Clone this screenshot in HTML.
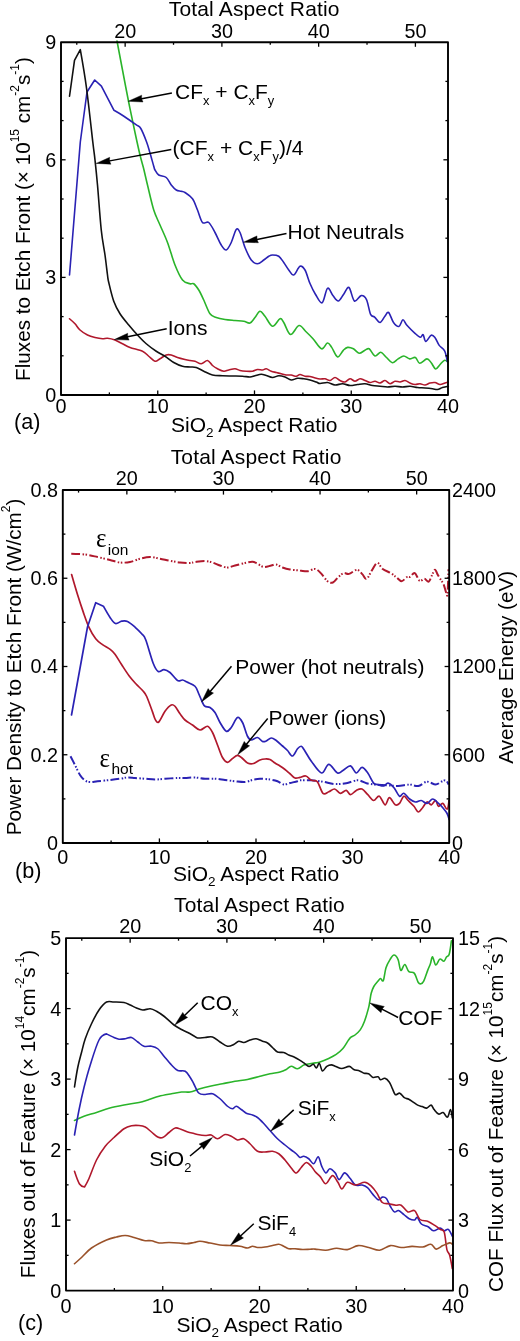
<!DOCTYPE html>
<html><head><meta charset="utf-8"><title>Figure</title>
<style>
html,body{margin:0;padding:0;background:#fff;}
svg{display:block;}
text{font-family:'Liberation Sans', Arial, Helvetica, sans-serif;fill:#000;}
</style></head>
<body>
<svg width="520" height="1341" viewBox="0 0 520 1341">
<rect width="520" height="1341" fill="#fff"/>
<path d="M117.00,41.00 C117.00,41.00 120.54,59.75 122.50,70.00 C124.46,80.25 126.67,92.08 128.75,102.50 C130.83,112.92 133.12,123.75 135.00,132.50 C136.88,141.25 138.58,149.08 140.00,155.00 C141.42,160.92 142.25,163.00 143.50,168.00 C144.75,173.00 145.79,178.00 147.50,185.00 C149.21,192.00 151.67,203.33 153.75,210.00 C155.83,216.67 157.71,219.58 160.00,225.00 C162.29,230.42 165.00,235.83 167.50,242.50 C170.00,249.17 172.50,258.75 175.00,265.00 C177.50,271.25 180.00,276.88 182.50,280.00 C185.00,283.12 188.12,283.12 190.00,283.75 C191.88,284.38 192.29,282.71 193.75,283.75 C195.21,284.79 197.08,287.29 198.75,290.00 C200.42,292.71 201.88,296.04 203.75,300.00 C205.62,303.96 207.92,310.83 210.00,313.75 C212.08,316.67 213.75,316.54 216.25,317.50 C218.75,318.46 221.88,319.00 225.00,319.50 C228.12,320.00 231.88,320.21 235.00,320.50 C238.12,320.79 241.25,320.83 243.75,321.25 C246.25,321.67 248.12,323.62 250.00,323.00 C251.88,322.38 253.33,319.46 255.00,317.50 C256.67,315.54 258.33,311.46 260.00,311.25 C261.67,311.04 262.92,313.75 265.00,316.25 C267.08,318.75 270.00,325.83 272.50,326.25 C275.00,326.67 278.12,319.38 280.00,318.75 C281.88,318.12 282.00,319.88 283.75,322.50 C285.50,325.12 287.96,334.00 290.50,334.50 C293.04,335.00 296.45,326.00 299.00,325.50 C301.55,325.00 303.47,329.30 305.80,331.50 C308.13,333.70 310.37,335.82 313.00,338.70 C315.63,341.58 319.20,348.08 321.60,348.80 C324.00,349.52 325.72,343.23 327.40,343.00 C329.08,342.77 330.02,345.08 331.70,347.40 C333.38,349.72 335.57,356.42 337.50,356.90 C339.43,357.38 341.62,351.88 343.30,350.30 C344.98,348.72 345.92,347.65 347.60,347.40 C349.28,347.15 351.48,347.83 353.40,348.80 C355.32,349.77 357.18,352.95 359.10,353.20 C361.02,353.45 363.22,351.03 364.90,350.30 C366.58,349.57 367.52,347.85 369.20,348.80 C370.88,349.75 373.07,355.42 375.00,356.00 C376.93,356.58 378.88,352.05 380.80,352.30 C382.72,352.55 384.58,355.77 386.50,357.50 C388.42,359.23 390.37,362.47 392.30,362.70 C394.23,362.93 396.18,360.02 398.10,358.90 C400.02,357.78 401.88,356.00 403.80,356.00 C405.72,356.00 407.67,358.65 409.60,358.90 C411.53,359.15 413.72,356.77 415.40,357.50 C417.08,358.23 417.78,363.07 419.70,363.30 C421.62,363.53 424.98,359.00 426.90,358.90 C428.82,358.80 429.75,361.02 431.20,362.70 C432.65,364.38 434.15,368.67 435.60,369.00 C437.05,369.33 438.47,366.13 439.90,364.70 C441.33,363.27 442.90,360.88 444.20,360.40 C445.50,359.92 447.70,361.80 447.70,361.80" fill="none" stroke="#2ab42a" stroke-width="1.6" stroke-linejoin="round" stroke-linecap="round" />
<path d="M69.50,275.00 C69.50,275.00 80.30,142.00 80.30,142.00 C80.30,142.00 87.00,92.00 87.00,92.00 C87.00,92.00 94.70,80.00 94.70,80.00 C94.70,80.00 101.40,86.20 101.40,86.20 C101.40,86.20 114.00,110.30 114.00,110.30 C114.00,110.30 119.83,113.60 123.50,116.00 C127.17,118.40 133.12,122.62 136.00,124.70 C138.88,126.78 139.03,125.62 140.80,128.50 C142.57,131.38 145.07,137.92 146.60,142.00 C148.13,146.08 148.81,148.96 150.00,153.00 C151.19,157.04 152.92,163.42 153.75,166.25 C154.58,169.08 154.17,168.54 155.00,170.00 C155.83,171.46 156.88,173.75 158.75,175.00 C160.62,176.25 164.17,175.83 166.25,177.50 C168.33,179.17 169.58,182.92 171.25,185.00 C172.92,187.08 174.58,188.96 176.25,190.00 C177.92,191.04 179.79,190.83 181.25,191.25 C182.71,191.67 183.12,191.25 185.00,192.50 C186.88,193.75 190.42,195.83 192.50,198.75 C194.58,201.67 195.83,206.04 197.50,210.00 C199.17,213.96 200.62,220.42 202.50,222.50 C204.38,224.58 206.67,220.83 208.75,222.50 C210.83,224.17 212.92,228.75 215.00,232.50 C217.08,236.25 219.38,242.08 221.25,245.00 C223.12,247.92 224.58,250.42 226.25,250.00 C227.92,249.58 229.58,245.92 231.25,242.50 C232.92,239.08 234.79,231.17 236.25,229.50 C237.71,227.83 238.54,229.50 240.00,232.50 C241.46,235.50 243.12,242.92 245.00,247.50 C246.88,252.08 249.17,257.29 251.25,260.00 C253.33,262.71 255.42,263.75 257.50,263.75 C259.58,263.75 261.88,261.25 263.75,260.00 C265.62,258.75 267.29,257.08 268.75,256.25 C270.21,255.42 270.83,255.00 272.50,255.00 C274.17,255.00 276.88,255.00 278.75,256.25 C280.62,257.50 282.08,260.21 283.75,262.50 C285.42,264.79 287.08,267.92 288.75,270.00 C290.42,272.08 291.88,275.62 293.75,275.00 C295.62,274.38 298.12,267.08 300.00,266.25 C301.88,265.42 303.33,267.12 305.00,270.00 C306.67,272.88 308.27,279.47 310.00,283.50 C311.73,287.53 313.38,290.98 315.40,294.20 C317.42,297.42 320.08,303.78 322.10,302.80 C324.12,301.82 325.70,289.50 327.50,288.30 C329.30,287.10 331.10,293.48 332.90,295.60 C334.70,297.72 336.50,301.23 338.30,301.00 C340.10,300.77 341.92,296.45 343.70,294.20 C345.48,291.95 347.22,286.37 349.00,287.50 C350.78,288.63 352.37,299.65 354.40,301.00 C356.43,302.35 359.18,295.83 361.20,295.60 C363.22,295.37 364.93,296.47 366.50,299.60 C368.07,302.73 369.25,311.48 370.60,314.40 C371.95,317.32 373.03,315.75 374.60,317.10 C376.17,318.45 378.28,322.63 380.00,322.50 C381.72,322.37 383.47,317.97 384.90,316.30 C386.33,314.63 387.17,311.47 388.60,312.50 C390.03,313.53 391.78,320.17 393.50,322.50 C395.22,324.83 397.33,326.95 398.90,326.50 C400.47,326.05 401.57,320.02 402.90,319.80 C404.23,319.58 404.88,322.95 406.90,325.20 C408.92,327.45 412.75,331.28 415.00,333.30 C417.25,335.32 419.05,337.08 420.40,337.30 C421.75,337.52 422.20,333.92 423.10,334.60 C424.00,335.28 424.45,341.30 425.80,341.40 C427.15,341.50 429.63,335.78 431.20,335.20 C432.77,334.62 433.87,336.20 435.20,337.90 C436.53,339.60 437.63,343.25 439.20,345.40 C440.77,347.55 443.25,348.12 444.60,350.80 C445.95,353.48 447.30,361.50 447.30,361.50" fill="none" stroke="#2a22b4" stroke-width="1.6" stroke-linejoin="round" stroke-linecap="round" />
<path d="M69.50,318.75 C69.50,318.75 73.25,321.88 75.00,323.75 C76.75,325.62 77.92,328.12 80.00,330.00 C82.08,331.88 85.00,333.75 87.50,335.00 C90.00,336.25 92.50,336.88 95.00,337.50 C97.50,338.12 100.42,338.62 102.50,338.75 C104.58,338.88 105.42,338.04 107.50,338.25 C109.58,338.46 112.50,339.08 115.00,340.00 C117.50,340.92 120.00,342.50 122.50,343.75 C125.00,345.00 126.67,346.25 130.00,347.50 C133.33,348.75 139.38,349.79 142.50,351.25 C145.62,352.71 146.67,354.58 148.75,356.25 C150.83,357.92 153.12,360.83 155.00,361.25 C156.88,361.67 158.12,359.79 160.00,358.75 C161.88,357.71 164.38,355.62 166.25,355.00 C168.12,354.38 169.38,354.58 171.25,355.00 C173.12,355.42 175.21,356.75 177.50,357.50 C179.79,358.25 182.92,359.00 185.00,359.50 C187.08,360.00 188.33,360.21 190.00,360.50 C191.67,360.79 193.12,360.71 195.00,361.25 C196.88,361.79 199.17,363.88 201.25,363.75 C203.33,363.62 205.62,360.21 207.50,360.50 C209.38,360.79 210.83,364.12 212.50,365.50 C214.17,366.88 215.62,367.79 217.50,368.75 C219.38,369.71 221.88,371.04 223.75,371.25 C225.62,371.46 226.88,370.42 228.75,370.00 C230.62,369.58 233.12,368.67 235.00,368.75 C236.88,368.83 238.12,370.08 240.00,370.50 C241.88,370.92 244.17,371.12 246.25,371.25 C248.33,371.38 250.62,371.54 252.50,371.25 C254.38,370.96 255.83,369.71 257.50,369.50 C259.17,369.29 261.04,370.12 262.50,370.00 C263.96,369.88 264.79,368.54 266.25,368.75 C267.71,368.96 269.58,370.62 271.25,371.25 C272.92,371.88 274.58,372.08 276.25,372.50 C277.92,372.92 279.58,373.33 281.25,373.75 C282.92,374.17 284.58,374.79 286.25,375.00 C287.92,375.21 289.58,374.79 291.25,375.00 C292.92,375.21 294.79,376.33 296.25,376.25 C297.71,376.17 298.54,374.50 300.00,374.50 C301.46,374.50 303.33,375.92 305.00,376.25 C306.67,376.58 308.54,376.29 310.00,376.50 C311.46,376.71 312.08,377.08 313.75,377.50 C315.42,377.92 318.12,378.79 320.00,379.00 C321.88,379.21 323.33,378.50 325.00,378.75 C326.67,379.00 328.33,380.71 330.00,380.50 C331.67,380.29 333.33,377.50 335.00,377.50 C336.67,377.50 338.33,379.75 340.00,380.50 C341.67,381.25 343.33,382.29 345.00,382.00 C346.67,381.71 348.33,378.88 350.00,378.75 C351.67,378.62 353.33,381.25 355.00,381.25 C356.67,381.25 358.33,378.88 360.00,378.75 C361.67,378.62 363.33,379.88 365.00,380.50 C366.67,381.12 368.33,382.38 370.00,382.50 C371.67,382.62 373.33,381.17 375.00,381.25 C376.67,381.33 378.33,383.12 380.00,383.00 C381.67,382.88 383.33,380.38 385.00,380.50 C386.67,380.62 388.33,383.62 390.00,383.75 C391.67,383.88 393.33,381.54 395.00,381.25 C396.67,380.96 398.33,382.12 400.00,382.00 C401.67,381.88 403.33,380.33 405.00,380.50 C406.67,380.67 408.33,382.33 410.00,383.00 C411.67,383.67 413.33,384.38 415.00,384.50 C416.67,384.62 418.33,383.67 420.00,383.75 C421.67,383.83 423.33,385.12 425.00,385.00 C426.67,384.88 428.33,383.42 430.00,383.00 C431.67,382.58 433.33,382.25 435.00,382.50 C436.67,382.75 438.33,384.42 440.00,384.50 C441.67,384.58 443.62,383.42 445.00,383.00 C446.38,382.58 448.30,382.00 448.30,382.00" fill="none" stroke="#b0182c" stroke-width="1.6" stroke-linejoin="round" stroke-linecap="round" />
<path d="M69.50,96.25 C69.50,96.25 74.50,60.30 74.50,60.30 C74.50,60.30 80.30,49.70 80.30,49.70 C80.30,49.70 84.42,72.62 86.50,88.00 C88.58,103.38 91.38,130.00 92.80,142.00 C94.22,154.00 94.22,152.83 95.00,160.00 C95.78,167.17 96.46,173.33 97.50,185.00 C98.54,196.67 100.00,218.33 101.25,230.00 C102.50,241.67 103.96,247.50 105.00,255.00 C106.04,262.50 106.88,270.42 107.50,275.00 C108.12,279.58 107.71,278.12 108.75,282.50 C109.79,286.88 111.88,296.04 113.75,301.25 C115.62,306.46 117.50,309.79 120.00,313.75 C122.50,317.71 125.83,321.46 128.75,325.00 C131.67,328.54 134.58,331.88 137.50,335.00 C140.42,338.12 143.12,341.04 146.25,343.75 C149.38,346.46 153.12,349.17 156.25,351.25 C159.38,353.33 162.08,354.38 165.00,356.25 C167.92,358.12 170.83,360.83 173.75,362.50 C176.67,364.17 179.79,365.50 182.50,366.25 C185.21,367.00 187.71,366.79 190.00,367.00 C192.29,367.21 193.96,366.79 196.25,367.50 C198.54,368.21 201.04,370.00 203.75,371.25 C206.46,372.50 209.38,374.25 212.50,375.00 C215.62,375.75 219.17,375.58 222.50,375.75 C225.83,375.92 229.17,375.92 232.50,376.00 C235.83,376.08 239.58,376.08 242.50,376.25 C245.42,376.42 247.92,377.08 250.00,377.00 C252.08,376.92 253.12,376.21 255.00,375.75 C256.88,375.29 259.38,374.29 261.25,374.25 C263.12,374.21 264.38,374.96 266.25,375.50 C268.12,376.04 270.42,377.46 272.50,377.50 C274.58,377.54 276.67,375.83 278.75,375.75 C280.83,375.67 282.92,376.29 285.00,377.00 C287.08,377.71 289.17,379.79 291.25,380.00 C293.33,380.21 295.42,378.46 297.50,378.25 C299.58,378.04 301.67,378.46 303.75,378.75 C305.83,379.04 307.92,379.46 310.00,380.00 C312.08,380.54 314.58,381.42 316.25,382.00 C317.92,382.58 318.12,383.42 320.00,383.50 C321.88,383.58 325.00,382.25 327.50,382.50 C330.00,382.75 332.50,384.79 335.00,385.00 C337.50,385.21 340.00,383.67 342.50,383.75 C345.00,383.83 347.50,385.38 350.00,385.50 C352.50,385.62 355.00,384.79 357.50,384.50 C360.00,384.21 362.50,383.58 365.00,383.75 C367.50,383.92 370.00,385.08 372.50,385.50 C375.00,385.92 377.50,386.00 380.00,386.25 C382.50,386.50 385.00,387.00 387.50,387.00 C390.00,387.00 392.50,386.25 395.00,386.25 C397.50,386.25 400.00,387.00 402.50,387.00 C405.00,387.00 407.50,386.17 410.00,386.25 C412.50,386.33 415.00,387.21 417.50,387.50 C420.00,387.79 422.50,387.79 425.00,388.00 C427.50,388.21 430.42,388.50 432.50,388.75 C434.58,389.00 435.83,389.71 437.50,389.50 C439.17,389.29 440.70,388.04 442.50,387.50 C444.30,386.96 448.30,386.25 448.30,386.25" fill="none" stroke="#111" stroke-width="1.6" stroke-linejoin="round" stroke-linecap="round" />
<path d="M71.25,553.75 C71.25,553.75 80.62,553.96 85.00,554.50 C89.38,555.04 93.33,556.08 97.50,557.00 C101.67,557.92 106.25,559.08 110.00,560.00 C113.75,560.92 116.67,562.17 120.00,562.50 C123.33,562.83 126.67,562.62 130.00,562.00 C133.33,561.38 136.67,559.58 140.00,558.75 C143.33,557.92 146.67,557.00 150.00,557.00 C153.33,557.00 156.67,558.12 160.00,558.75 C163.33,559.38 166.67,560.12 170.00,560.75 C173.33,561.38 176.67,562.12 180.00,562.50 C183.33,562.88 187.50,563.08 190.00,563.00 C192.50,562.92 192.50,562.33 195.00,562.00 C197.50,561.67 202.08,560.92 205.00,561.00 C207.92,561.08 210.00,561.75 212.50,562.50 C215.00,563.25 217.50,564.67 220.00,565.50 C222.50,566.33 225.00,567.50 227.50,567.50 C230.00,567.50 232.08,566.25 235.00,565.50 C237.92,564.75 242.08,563.62 245.00,563.00 C247.92,562.38 250.42,561.62 252.50,561.75 C254.58,561.88 255.62,562.88 257.50,563.75 C259.38,564.62 261.46,566.71 263.75,567.00 C266.04,567.29 269.17,565.92 271.25,565.50 C273.33,565.08 274.38,564.17 276.25,564.50 C278.12,564.83 280.21,566.67 282.50,567.50 C284.79,568.33 287.08,569.00 290.00,569.50 C292.92,570.00 297.08,570.21 300.00,570.50 C302.92,570.79 305.00,571.50 307.50,571.25 C310.00,571.00 312.78,568.69 315.00,569.00 C317.22,569.31 318.72,571.07 320.80,573.10 C322.88,575.13 325.48,579.63 327.50,581.20 C329.52,582.77 331.10,583.18 332.90,582.50 C334.70,581.82 336.50,578.67 338.30,577.10 C340.10,575.53 341.92,573.63 343.70,573.10 C345.48,572.57 346.77,574.45 349.00,573.90 C351.23,573.35 354.85,569.72 357.10,569.80 C359.35,569.88 360.93,572.87 362.50,574.40 C364.07,575.93 364.93,579.67 366.50,579.00 C368.07,578.33 370.10,573.10 371.90,570.40 C373.70,567.70 375.50,563.03 377.30,562.80 C379.10,562.57 380.45,567.28 382.70,569.00 C384.95,570.72 388.55,571.75 390.80,573.10 C393.05,574.45 394.42,575.75 396.20,577.10 C397.98,578.45 399.72,581.20 401.50,581.20 C403.28,581.20 405.48,577.82 406.90,577.10 C408.32,576.38 408.68,577.57 410.00,576.90 C411.32,576.23 413.20,572.45 414.80,573.10 C416.40,573.75 418.00,579.85 419.60,580.80 C421.20,581.75 422.88,578.65 424.40,578.80 C425.92,578.95 427.47,582.33 428.75,581.70 C430.03,581.07 431.06,577.00 432.10,575.00 C433.14,573.00 434.03,569.70 435.00,569.70 C435.97,569.70 436.93,573.32 437.90,575.00 C438.87,576.68 439.83,578.20 440.80,579.80 C441.77,581.40 442.82,582.52 443.70,584.60 C444.58,586.68 445.47,590.70 446.10,592.30 C446.73,593.90 447.10,598.05 447.50,594.20 C447.90,590.35 448.50,569.20 448.50,569.20" fill="none" stroke="#b0182c" stroke-width="2.0" stroke-linejoin="round" stroke-linecap="butt" stroke-dasharray="8.8 2.4 1.5 1.6 1.5 2.3" />
<path d="M70.50,756.25 C70.50,756.25 73.42,761.88 75.00,765.00 C76.58,768.12 78.33,772.42 80.00,775.00 C81.67,777.58 83.33,779.33 85.00,780.50 C86.67,781.67 87.92,781.88 90.00,782.00 C92.08,782.12 94.17,781.58 97.50,781.25 C100.83,780.92 106.25,780.42 110.00,780.00 C113.75,779.58 117.08,779.17 120.00,778.75 C122.92,778.33 125.00,777.62 127.50,777.50 C130.00,777.38 132.08,777.79 135.00,778.00 C137.92,778.21 141.67,778.50 145.00,778.75 C148.33,779.00 151.67,779.50 155.00,779.50 C158.33,779.50 161.25,779.00 165.00,778.75 C168.75,778.50 174.17,778.12 177.50,778.00 C180.83,777.88 182.08,778.08 185.00,778.00 C187.92,777.92 191.67,777.38 195.00,777.50 C198.33,777.62 201.67,778.54 205.00,778.75 C208.33,778.96 211.67,778.54 215.00,778.75 C218.33,778.96 221.67,779.58 225.00,780.00 C228.33,780.42 231.67,780.92 235.00,781.25 C238.33,781.58 242.08,782.21 245.00,782.00 C247.92,781.79 250.00,780.54 252.50,780.00 C255.00,779.46 257.08,778.83 260.00,778.75 C262.92,778.67 267.08,779.08 270.00,779.50 C272.92,779.92 275.21,780.42 277.50,781.25 C279.79,782.08 281.67,784.21 283.75,784.50 C285.83,784.79 287.71,783.54 290.00,783.00 C292.29,782.46 295.83,781.70 297.50,781.25 C299.17,780.80 297.67,780.46 300.00,780.30 C302.33,780.14 307.67,780.07 311.50,780.30 C315.33,780.53 319.15,781.08 323.00,781.70 C326.85,782.32 330.73,783.75 334.60,784.00 C338.47,784.25 342.35,783.82 346.20,783.20 C350.05,782.58 354.33,780.30 357.70,780.30 C361.07,780.30 363.52,782.48 366.40,783.20 C369.28,783.92 371.65,784.27 375.00,784.60 C378.35,784.93 382.67,784.97 386.50,785.20 C390.33,785.43 394.15,786.10 398.00,786.00 C401.85,785.90 406.22,784.60 409.60,784.60 C412.98,784.60 415.40,786.48 418.30,786.00 C421.20,785.52 424.12,781.93 427.00,781.70 C429.88,781.47 433.20,784.60 435.60,784.60 C438.00,784.60 439.72,782.42 441.40,781.70 C443.08,780.98 444.50,779.82 445.70,780.30 C446.90,780.78 448.60,784.60 448.60,784.60" fill="none" stroke="#2a22b4" stroke-width="2.0" stroke-linejoin="round" stroke-linecap="butt" stroke-dasharray="8.8 2.4 1.5 1.6 1.5 2.3" />
<path d="M71.60,574.60 C71.60,574.60 75.57,588.38 77.50,594.60 C79.43,600.82 81.28,606.45 83.20,611.90 C85.12,617.35 86.92,622.82 89.00,627.30 C91.08,631.78 93.45,635.92 95.70,638.80 C97.95,641.68 100.08,642.83 102.50,644.60 C104.92,646.37 108.12,647.80 110.20,649.40 C112.28,651.00 113.08,651.63 115.00,654.20 C116.92,656.77 119.30,661.12 121.70,664.80 C124.10,668.48 127.00,673.10 129.40,676.30 C131.80,679.50 133.87,681.58 136.10,684.00 C138.33,686.42 141.03,688.72 142.80,690.80 C144.57,692.88 145.08,692.98 146.70,696.50 C148.32,700.02 151.07,708.05 152.50,711.90 C153.93,715.75 154.26,717.92 155.30,719.60 C156.34,721.28 157.13,723.39 158.75,722.00 C160.37,720.61 162.92,714.08 165.00,711.25 C167.08,708.42 169.58,705.83 171.25,705.00 C172.92,704.17 173.54,704.79 175.00,706.25 C176.46,707.71 178.33,711.46 180.00,713.75 C181.67,716.04 182.92,718.12 185.00,720.00 C187.08,721.88 190.00,723.33 192.50,725.00 C195.00,726.67 197.50,729.79 200.00,730.00 C202.50,730.21 205.42,725.83 207.50,726.25 C209.58,726.67 210.83,729.38 212.50,732.50 C214.17,735.62 215.83,740.83 217.50,745.00 C219.17,749.17 220.83,754.62 222.50,757.50 C224.17,760.38 225.83,762.13 227.50,762.30 C229.17,762.47 230.83,759.67 232.50,758.50 C234.17,757.33 235.83,755.30 237.50,755.30 C239.17,755.30 240.83,757.22 242.50,758.50 C244.17,759.78 245.67,762.17 247.50,763.00 C249.33,763.83 251.42,764.00 253.50,763.50 C255.58,763.00 258.08,760.75 260.00,760.00 C261.92,759.25 263.33,759.08 265.00,759.00 C266.67,758.92 268.33,758.83 270.00,759.50 C271.67,760.17 273.33,761.92 275.00,763.00 C276.67,764.08 278.33,764.92 280.00,766.00 C281.67,767.08 283.33,768.21 285.00,769.50 C286.67,770.79 288.33,772.33 290.00,773.75 C291.67,775.17 293.33,777.39 295.00,778.00 C296.67,778.61 298.20,777.73 300.00,777.40 C301.80,777.07 303.88,775.52 305.80,776.00 C307.72,776.48 309.58,779.35 311.50,780.30 C313.42,781.25 315.38,779.53 317.30,781.70 C319.22,783.87 321.08,791.62 323.00,793.30 C324.92,794.98 326.87,792.52 328.80,791.80 C330.73,791.08 332.67,788.75 334.60,789.00 C336.53,789.25 338.47,793.07 340.40,793.30 C342.33,793.53 344.52,790.17 346.20,790.40 C347.88,790.63 348.82,794.70 350.50,794.70 C352.18,794.70 354.38,791.35 356.30,790.40 C358.22,789.45 360.08,788.28 362.00,789.00 C363.92,789.72 365.87,792.78 367.80,794.70 C369.73,796.62 371.68,800.25 373.60,800.50 C375.52,800.75 377.38,795.48 379.30,796.20 C381.22,796.92 383.42,804.57 385.10,804.80 C386.78,805.03 387.72,797.60 389.40,797.60 C391.08,797.60 393.52,803.83 395.20,804.80 C396.88,805.77 398.07,804.83 399.50,803.40 C400.93,801.97 402.35,796.68 403.80,796.20 C405.25,795.72 406.50,798.82 408.20,800.50 C409.90,802.18 412.32,804.38 414.00,806.30 C415.68,808.22 416.87,811.77 418.30,812.00 C419.73,812.23 421.15,809.37 422.60,807.70 C424.05,806.03 425.55,802.48 427.00,802.00 C428.45,801.52 429.87,805.05 431.30,804.80 C432.73,804.55 434.40,800.25 435.60,800.50 C436.80,800.75 437.30,805.82 438.50,806.30 C439.70,806.78 441.37,802.92 442.80,803.40 C444.23,803.88 446.07,809.68 447.10,809.20 C448.13,808.72 449.00,800.50 449.00,800.50" fill="none" stroke="#b0182c" stroke-width="1.7" stroke-linejoin="round" stroke-linecap="round" />
<path d="M71.50,715.00 C71.50,715.00 87.50,627.00 87.50,627.00 C87.50,627.00 95.70,602.70 95.70,602.70 C95.70,602.70 103.40,606.20 103.40,606.20 C103.40,606.20 108.18,614.82 110.20,617.70 C112.22,620.58 113.58,622.92 115.50,623.50 C117.42,624.08 119.70,621.53 121.70,621.20 C123.70,620.87 125.25,620.48 127.50,621.50 C129.75,622.52 132.80,625.22 135.20,627.30 C137.60,629.38 140.15,631.92 141.90,634.00 C143.65,636.08 143.78,634.83 145.70,639.80 C147.62,644.77 151.32,658.52 153.40,663.80 C155.48,669.08 156.43,670.53 158.20,671.50 C159.97,672.47 162.03,669.43 164.00,669.60 C165.97,669.77 167.75,670.68 170.00,672.50 C172.25,674.32 175.42,679.25 177.50,680.50 C179.58,681.75 180.92,679.75 182.50,680.00 C184.08,680.25 184.92,680.96 187.00,682.00 C189.08,683.04 193.04,684.29 195.00,686.25 C196.96,688.21 197.50,691.04 198.75,693.75 C200.00,696.46 201.46,700.42 202.50,702.50 C203.54,704.58 203.75,705.42 205.00,706.25 C206.25,707.08 208.33,706.46 210.00,707.50 C211.67,708.54 213.33,710.00 215.00,712.50 C216.67,715.00 218.12,719.38 220.00,722.50 C221.88,725.62 224.38,730.42 226.25,731.25 C228.12,732.08 229.38,729.79 231.25,727.50 C233.12,725.21 235.62,718.33 237.50,717.50 C239.38,716.67 240.83,719.38 242.50,722.50 C244.17,725.62 246.04,733.33 247.50,736.25 C248.96,739.17 249.58,739.79 251.25,740.00 C252.92,740.21 255.62,737.25 257.50,737.50 C259.38,737.75 261.04,740.92 262.50,741.50 C263.96,742.08 264.79,741.58 266.25,741.00 C267.71,740.42 269.58,738.08 271.25,738.00 C272.92,737.92 274.38,739.17 276.25,740.50 C278.12,741.83 280.62,744.33 282.50,746.00 C284.38,747.67 285.83,748.83 287.50,750.50 C289.17,752.17 290.83,756.29 292.50,756.00 C294.17,755.71 296.04,750.38 297.50,748.75 C298.96,747.12 300.12,746.04 301.25,746.25 C302.38,746.46 302.59,747.46 304.30,750.00 C306.01,752.54 308.62,757.67 311.50,761.50 C314.38,765.33 318.72,772.52 321.60,773.00 C324.48,773.48 326.15,764.40 328.80,764.40 C331.45,764.40 335.08,772.03 337.50,773.00 C339.92,773.97 341.13,771.38 343.30,770.20 C345.47,769.02 348.33,765.43 350.50,765.90 C352.67,766.37 354.38,772.77 356.30,773.00 C358.22,773.23 360.08,767.30 362.00,767.30 C363.92,767.30 365.87,770.37 367.80,773.00 C369.73,775.63 371.92,781.17 373.60,783.10 C375.28,785.03 376.22,784.12 377.90,784.60 C379.58,785.08 382.02,786.25 383.70,786.00 C385.38,785.75 386.32,782.85 388.00,783.10 C389.68,783.35 391.88,785.32 393.80,787.50 C395.72,789.68 397.83,795.23 399.50,796.20 C401.17,797.17 402.12,792.83 403.80,793.30 C405.48,793.77 407.67,797.55 409.60,799.00 C411.53,800.45 413.47,801.75 415.40,802.00 C417.33,802.25 419.27,800.27 421.20,800.50 C423.13,800.73 425.08,803.65 427.00,803.40 C428.92,803.15 430.78,799.00 432.70,799.00 C434.62,799.00 436.82,801.95 438.50,803.40 C440.18,804.85 441.37,806.02 442.80,807.70 C444.23,809.38 446.03,811.52 447.10,813.50 C448.17,815.48 449.20,819.60 449.20,819.60" fill="none" stroke="#2a22b4" stroke-width="1.7" stroke-linejoin="round" stroke-linecap="round" />
<path d="M74.50,1120.50 C74.50,1120.50 80.33,1117.58 84.00,1116.25 C87.67,1114.92 92.33,1113.83 96.50,1112.50 C100.67,1111.17 104.42,1109.50 109.00,1108.25 C113.58,1107.00 119.00,1105.96 124.00,1105.00 C129.00,1104.04 134.83,1103.42 139.00,1102.50 C143.17,1101.58 145.67,1100.54 149.00,1099.50 C152.33,1098.46 155.25,1097.21 159.00,1096.25 C162.75,1095.29 167.75,1094.46 171.50,1093.75 C175.25,1093.04 178.42,1092.29 181.50,1092.00 C184.58,1091.71 186.92,1092.54 190.00,1092.00 C193.08,1091.46 196.67,1089.71 200.00,1088.75 C203.33,1087.79 206.25,1087.08 210.00,1086.25 C213.75,1085.42 218.33,1084.58 222.50,1083.75 C226.67,1082.92 230.83,1081.96 235.00,1081.25 C239.17,1080.54 243.33,1080.33 247.50,1079.50 C251.67,1078.67 256.25,1077.21 260.00,1076.25 C263.75,1075.29 266.67,1074.46 270.00,1073.75 C273.33,1073.04 277.29,1072.71 280.00,1072.00 C282.71,1071.29 284.38,1070.46 286.25,1069.50 C288.12,1068.54 289.38,1066.38 291.25,1066.25 C293.12,1066.12 295.42,1068.96 297.50,1068.75 C299.58,1068.54 301.67,1065.83 303.75,1065.00 C305.83,1064.17 308.12,1064.10 310.00,1063.75 C311.88,1063.40 313.33,1063.21 315.00,1062.90 C316.67,1062.59 317.82,1062.60 320.00,1061.90 C322.18,1061.20 325.40,1059.95 328.10,1058.70 C330.80,1057.45 333.73,1056.10 336.20,1054.40 C338.67,1052.70 340.88,1050.83 342.90,1048.50 C344.92,1046.17 346.95,1042.28 348.30,1040.40 C349.65,1038.52 349.88,1038.10 351.00,1037.20 C352.12,1036.30 353.43,1036.27 355.00,1035.00 C356.57,1033.73 358.83,1031.85 360.40,1029.60 C361.97,1027.35 363.05,1025.08 364.40,1021.50 C365.75,1017.92 367.60,1011.45 368.50,1008.10 C369.40,1004.75 369.35,1003.87 369.80,1001.40 C370.25,998.93 370.53,995.78 371.20,993.30 C371.87,990.82 372.68,988.52 373.80,986.50 C374.92,984.48 376.77,982.53 377.90,981.20 C379.03,979.87 379.70,978.60 380.60,978.50 C381.50,978.40 382.40,982.40 383.30,980.60 C384.20,978.80 384.88,971.20 386.00,967.70 C387.12,964.20 388.67,961.72 390.00,959.60 C391.33,957.48 392.65,955.00 394.00,955.00 C395.35,955.00 396.97,957.03 398.10,959.60 C399.23,962.17 399.68,969.58 400.80,970.40 C401.92,971.22 403.45,964.28 404.80,964.50 C406.15,964.72 407.33,970.27 408.90,971.70 C410.47,973.13 412.63,971.30 414.20,973.10 C415.77,974.90 417.17,980.72 418.30,982.50 C419.43,984.28 420.10,984.02 421.00,983.80 C421.90,983.58 422.58,983.43 423.70,981.20 C424.82,978.97 426.58,973.32 427.70,970.40 C428.82,967.48 429.60,965.95 430.40,963.70 C431.20,961.45 431.60,956.68 432.50,956.90 C433.40,957.12 434.58,964.63 435.80,965.00 C437.02,965.37 438.45,959.73 439.80,959.10 C441.15,958.47 442.78,961.57 443.90,961.20 C445.02,960.83 445.62,958.07 446.50,956.90 C447.38,955.73 448.38,956.88 449.20,954.20 C450.02,951.52 451.40,940.80 451.40,940.80" fill="none" stroke="#2ab42a" stroke-width="1.6" stroke-linejoin="round" stroke-linecap="round" />
<path d="M74.50,1087.00 C74.50,1087.00 76.58,1073.25 77.75,1067.50 C78.92,1061.75 80.25,1057.29 81.50,1052.50 C82.75,1047.71 83.58,1043.54 85.25,1038.75 C86.92,1033.96 89.21,1028.54 91.50,1023.75 C93.79,1018.96 96.50,1013.62 99.00,1010.00 C101.50,1006.38 104.00,1003.33 106.50,1002.00 C109.00,1000.67 111.08,1001.92 114.00,1002.00 C116.92,1002.08 121.29,1002.00 124.00,1002.50 C126.71,1003.00 128.17,1004.08 130.25,1005.00 C132.33,1005.92 134.42,1007.17 136.50,1008.00 C138.58,1008.83 140.46,1009.88 142.75,1010.00 C145.04,1010.12 147.96,1008.54 150.25,1008.75 C152.54,1008.96 154.21,1010.00 156.50,1011.25 C158.79,1012.50 161.08,1013.96 164.00,1016.25 C166.92,1018.54 171.08,1022.79 174.00,1025.00 C176.92,1027.21 179.21,1028.25 181.50,1029.50 C183.79,1030.75 185.67,1031.42 187.75,1032.50 C189.83,1033.58 192.38,1035.08 194.00,1036.00 C195.62,1036.92 195.67,1037.75 197.50,1038.00 C199.33,1038.25 202.50,1037.67 205.00,1037.50 C207.50,1037.33 210.00,1036.25 212.50,1037.00 C215.00,1037.75 217.50,1040.46 220.00,1042.00 C222.50,1043.54 225.21,1045.83 227.50,1046.25 C229.79,1046.67 231.88,1045.33 233.75,1044.50 C235.62,1043.67 237.08,1041.58 238.75,1041.25 C240.42,1040.92 241.88,1042.71 243.75,1042.50 C245.62,1042.29 247.92,1040.62 250.00,1040.00 C252.08,1039.38 254.17,1038.54 256.25,1038.75 C258.33,1038.96 260.62,1040.54 262.50,1041.25 C264.38,1041.96 265.83,1041.96 267.50,1043.00 C269.17,1044.04 270.83,1046.00 272.50,1047.50 C274.17,1049.00 275.62,1051.17 277.50,1052.00 C279.38,1052.83 281.88,1052.00 283.75,1052.50 C285.62,1053.00 286.88,1054.17 288.75,1055.00 C290.62,1055.83 293.12,1056.60 295.00,1057.50 C296.88,1058.40 298.42,1059.42 300.00,1060.40 C301.58,1061.38 303.00,1062.40 304.50,1063.40 C306.00,1064.40 307.52,1066.25 309.00,1066.40 C310.48,1066.55 312.17,1064.05 313.40,1064.30 C314.63,1064.55 315.40,1068.05 316.40,1067.90 C317.40,1067.75 318.40,1062.90 319.40,1063.40 C320.40,1063.90 321.17,1070.40 322.40,1070.90 C323.63,1071.40 325.32,1067.40 326.80,1066.40 C328.28,1065.40 329.80,1064.90 331.30,1064.90 C332.80,1064.90 334.07,1065.80 335.80,1066.40 C337.53,1067.00 339.47,1068.50 341.70,1068.50 C343.93,1068.50 347.20,1066.25 349.20,1066.40 C351.20,1066.55 351.97,1068.65 353.70,1069.40 C355.43,1070.15 357.87,1070.27 359.60,1070.90 C361.33,1071.53 362.60,1072.72 364.10,1073.20 C365.60,1073.68 367.12,1073.10 368.60,1073.80 C370.08,1074.50 371.42,1076.90 373.00,1077.40 C374.58,1077.90 376.85,1076.40 378.10,1076.80 C379.35,1077.20 379.37,1079.55 380.50,1079.80 C381.63,1080.05 383.42,1077.90 384.90,1078.30 C386.38,1078.70 388.15,1080.47 389.40,1082.20 C390.65,1083.93 391.40,1086.62 392.40,1088.70 C393.40,1090.78 394.17,1093.95 395.40,1094.70 C396.63,1095.45 398.32,1092.70 399.80,1093.20 C401.28,1093.70 402.80,1096.70 404.30,1097.70 C405.80,1098.70 407.30,1098.45 408.80,1099.20 C410.30,1099.95 411.82,1101.22 413.30,1102.20 C414.78,1103.18 416.22,1104.37 417.70,1105.10 C419.18,1105.83 420.70,1106.10 422.20,1106.60 C423.70,1107.10 425.22,1108.35 426.70,1108.10 C428.18,1107.85 429.87,1104.85 431.10,1105.10 C432.33,1105.35 432.85,1108.10 434.10,1109.60 C435.35,1111.10 437.10,1113.60 438.60,1114.10 C440.10,1114.60 441.62,1112.10 443.10,1112.60 C444.58,1113.10 446.27,1117.60 447.50,1117.10 C448.73,1116.60 449.70,1109.45 450.50,1109.60 C451.30,1109.75 452.30,1118.00 452.30,1118.00" fill="none" stroke="#111" stroke-width="1.6" stroke-linejoin="round" stroke-linecap="round" />
<path d="M74.50,1135.00 C74.50,1135.00 77.42,1117.92 79.00,1110.00 C80.58,1102.08 82.12,1095.00 84.00,1087.50 C85.88,1080.00 87.75,1072.92 90.25,1065.00 C92.75,1057.08 96.29,1045.18 99.00,1040.00 C101.71,1034.82 106.50,1033.90 106.50,1033.90 C106.50,1033.90 111.92,1036.61 114.00,1037.50 C116.08,1038.39 117.12,1039.04 119.00,1039.25 C120.88,1039.46 123.17,1039.04 125.25,1038.75 C127.33,1038.46 129.42,1036.96 131.50,1037.50 C133.58,1038.04 135.67,1040.54 137.75,1042.00 C139.83,1043.46 141.71,1045.54 144.00,1046.25 C146.29,1046.96 149.21,1045.83 151.50,1046.25 C153.79,1046.67 155.67,1047.08 157.75,1048.75 C159.83,1050.42 161.71,1053.54 164.00,1056.25 C166.29,1058.96 169.21,1062.62 171.50,1065.00 C173.79,1067.38 175.46,1069.46 177.75,1070.50 C180.04,1071.54 183.17,1070.08 185.25,1071.25 C187.33,1072.42 188.83,1075.42 190.25,1077.50 C191.67,1079.58 192.33,1081.17 193.75,1083.75 C195.17,1086.33 196.88,1091.21 198.75,1093.00 C200.62,1094.79 202.71,1094.38 205.00,1094.50 C207.29,1094.62 210.00,1093.04 212.50,1093.75 C215.00,1094.46 217.50,1096.67 220.00,1098.75 C222.50,1100.83 225.42,1104.58 227.50,1106.25 C229.58,1107.92 231.04,1108.75 232.50,1108.75 C233.96,1108.75 234.79,1106.12 236.25,1106.25 C237.71,1106.38 239.58,1108.33 241.25,1109.50 C242.92,1110.67 244.38,1112.33 246.25,1113.25 C248.12,1114.17 250.62,1114.29 252.50,1115.00 C254.38,1115.71 255.62,1116.08 257.50,1117.50 C259.38,1118.92 261.67,1121.33 263.75,1123.50 C265.83,1125.67 267.71,1127.96 270.00,1130.50 C272.29,1133.04 275.00,1136.33 277.50,1138.75 C280.00,1141.17 282.71,1143.12 285.00,1145.00 C287.29,1146.88 289.38,1148.54 291.25,1150.00 C293.12,1151.46 294.79,1152.50 296.25,1153.75 C297.71,1155.00 298.75,1157.08 300.00,1157.50 C301.25,1157.92 302.29,1156.04 303.75,1156.25 C305.21,1156.46 307.08,1157.50 308.75,1158.75 C310.42,1160.00 312.18,1164.09 313.75,1163.75 C315.32,1163.41 316.88,1156.29 318.20,1156.70 C319.52,1157.11 320.43,1163.50 321.70,1166.20 C322.97,1168.90 324.45,1172.47 325.80,1172.90 C327.15,1173.33 328.23,1168.80 329.80,1168.80 C331.37,1168.80 333.63,1171.10 335.20,1172.90 C336.77,1174.70 337.63,1179.60 339.20,1179.60 C340.77,1179.60 342.80,1173.12 344.60,1172.90 C346.40,1172.68 348.20,1176.28 350.00,1178.30 C351.80,1180.32 353.38,1183.88 355.40,1185.00 C357.42,1186.12 360.08,1184.55 362.10,1185.00 C364.12,1185.45 365.70,1186.13 367.50,1187.70 C369.30,1189.27 371.10,1192.38 372.90,1194.40 C374.70,1196.42 376.73,1199.35 378.30,1199.80 C379.87,1200.25 380.95,1197.32 382.30,1197.10 C383.65,1196.88 385.05,1196.93 386.40,1198.50 C387.75,1200.07 389.07,1204.27 390.40,1206.50 C391.73,1208.73 393.05,1211.22 394.40,1211.90 C395.75,1212.58 396.92,1210.15 398.50,1210.60 C400.08,1211.05 402.12,1213.25 403.90,1214.60 C405.68,1215.95 407.42,1217.80 409.20,1218.70 C410.98,1219.60 413.25,1220.23 414.60,1220.00 C415.95,1219.77 416.17,1216.63 417.30,1217.30 C418.43,1217.97 419.60,1222.43 421.40,1224.00 C423.20,1225.57 426.08,1225.57 428.10,1226.70 C430.12,1227.83 431.48,1230.57 433.50,1230.80 C435.52,1231.03 438.42,1228.10 440.20,1228.10 C441.98,1228.10 442.85,1230.58 444.20,1230.80 C445.55,1231.02 446.95,1228.50 448.30,1229.40 C449.65,1230.30 452.30,1236.20 452.30,1236.20" fill="none" stroke="#2a22b4" stroke-width="1.6" stroke-linejoin="round" stroke-linecap="round" />
<path d="M74.50,1171.25 C74.50,1171.25 77.83,1181.38 79.50,1184.00 C81.17,1186.62 84.50,1187.00 84.50,1187.00 C84.50,1187.00 87.00,1183.00 89.00,1178.50 C91.00,1174.00 93.79,1165.38 96.50,1160.00 C99.21,1154.62 102.33,1150.00 105.25,1146.25 C108.17,1142.50 110.88,1140.42 114.00,1137.50 C117.12,1134.58 121.08,1130.71 124.00,1128.75 C126.92,1126.79 129.00,1126.29 131.50,1125.75 C134.00,1125.21 136.71,1125.29 139.00,1125.50 C141.29,1125.71 143.17,1125.92 145.25,1127.00 C147.33,1128.08 149.42,1130.33 151.50,1132.00 C153.58,1133.67 155.88,1136.08 157.75,1137.00 C159.62,1137.92 160.88,1138.25 162.75,1137.50 C164.62,1136.75 166.92,1134.08 169.00,1132.50 C171.08,1130.92 173.17,1128.50 175.25,1128.00 C177.33,1127.50 179.42,1128.83 181.50,1129.50 C183.58,1130.17 185.67,1131.33 187.75,1132.00 C189.83,1132.67 192.38,1133.08 194.00,1133.50 C195.62,1133.92 195.67,1134.17 197.50,1134.50 C199.33,1134.83 202.71,1135.42 205.00,1135.50 C207.29,1135.58 209.17,1134.46 211.25,1135.00 C213.33,1135.54 215.21,1138.83 217.50,1138.75 C219.79,1138.67 222.71,1134.92 225.00,1134.50 C227.29,1134.08 229.17,1135.33 231.25,1136.25 C233.33,1137.17 235.42,1139.58 237.50,1140.00 C239.58,1140.42 241.67,1138.12 243.75,1138.75 C245.83,1139.38 247.71,1141.67 250.00,1143.75 C252.29,1145.83 255.00,1149.88 257.50,1151.25 C260.00,1152.62 262.50,1152.00 265.00,1152.00 C267.50,1152.00 270.21,1150.96 272.50,1151.25 C274.79,1151.54 276.67,1152.29 278.75,1153.75 C280.83,1155.21 282.92,1157.62 285.00,1160.00 C287.08,1162.38 289.38,1165.83 291.25,1168.00 C293.12,1170.17 294.58,1173.08 296.25,1173.00 C297.92,1172.92 299.58,1169.25 301.25,1167.50 C302.92,1165.75 304.58,1162.71 306.25,1162.50 C307.92,1162.29 309.79,1164.75 311.25,1166.25 C312.71,1167.75 313.48,1169.72 315.00,1171.50 C316.52,1173.28 318.60,1174.87 320.40,1176.90 C322.20,1178.93 323.78,1183.92 325.80,1183.70 C327.82,1183.48 330.48,1175.83 332.50,1175.60 C334.52,1175.37 336.33,1180.07 337.90,1182.30 C339.47,1184.53 340.33,1189.00 341.90,1189.00 C343.47,1189.00 345.05,1182.97 347.30,1182.30 C349.55,1181.63 352.48,1185.00 355.40,1185.00 C358.32,1185.00 362.12,1182.08 364.80,1182.30 C367.48,1182.52 369.48,1184.50 371.50,1186.30 C373.52,1188.10 375.10,1190.40 376.90,1193.10 C378.70,1195.80 380.28,1200.72 382.30,1202.50 C384.32,1204.28 386.75,1203.35 389.00,1203.80 C391.25,1204.25 393.77,1204.97 395.80,1205.20 C397.83,1205.43 399.18,1204.08 401.20,1205.20 C403.22,1206.32 405.67,1211.00 407.90,1211.90 C410.13,1212.80 412.58,1209.33 414.60,1210.60 C416.62,1211.87 417.75,1217.70 420.00,1219.50 C422.25,1221.30 425.63,1220.42 428.10,1221.40 C430.57,1222.38 432.78,1224.07 434.80,1225.40 C436.82,1226.73 438.63,1228.28 440.20,1229.40 C441.77,1230.52 443.08,1228.73 444.20,1232.10 C445.32,1235.47 446.00,1245.78 446.90,1249.60 C447.80,1253.42 448.70,1251.85 449.60,1255.00 C450.50,1258.15 452.30,1268.50 452.30,1268.50" fill="none" stroke="#b0182c" stroke-width="1.6" stroke-linejoin="round" stroke-linecap="round" />
<path d="M74.50,1263.75 C74.50,1263.75 78.67,1260.12 81.50,1257.50 C84.33,1254.88 87.33,1250.92 91.50,1248.00 C95.67,1245.08 102.33,1241.83 106.50,1240.00 C110.67,1238.17 113.38,1237.75 116.50,1237.00 C119.62,1236.25 122.33,1235.42 125.25,1235.50 C128.17,1235.58 130.88,1236.67 134.00,1237.50 C137.12,1238.33 141.08,1239.96 144.00,1240.50 C146.92,1241.04 149.00,1240.33 151.50,1240.75 C154.00,1241.17 156.08,1242.71 159.00,1243.00 C161.92,1243.29 165.67,1242.50 169.00,1242.50 C172.33,1242.50 176.08,1242.79 179.00,1243.00 C181.92,1243.21 184.00,1243.83 186.50,1243.75 C189.00,1243.67 191.75,1242.92 194.00,1242.50 C196.25,1242.08 197.33,1241.17 200.00,1241.25 C202.67,1241.33 206.67,1242.38 210.00,1243.00 C213.33,1243.62 216.67,1244.58 220.00,1245.00 C223.33,1245.42 226.67,1245.29 230.00,1245.50 C233.33,1245.71 237.08,1245.83 240.00,1246.25 C242.92,1246.67 245.42,1248.00 247.50,1248.00 C249.58,1248.00 250.83,1246.33 252.50,1246.25 C254.17,1246.17 255.42,1247.38 257.50,1247.50 C259.58,1247.62 262.50,1247.33 265.00,1247.00 C267.50,1246.67 270.21,1245.96 272.50,1245.50 C274.79,1245.04 276.88,1244.12 278.75,1244.25 C280.62,1244.38 282.08,1245.50 283.75,1246.25 C285.42,1247.00 286.88,1248.33 288.75,1248.75 C290.62,1249.17 292.71,1248.62 295.00,1248.75 C297.29,1248.88 300.00,1249.42 302.50,1249.50 C305.00,1249.58 307.92,1249.32 310.00,1249.25 C312.08,1249.18 312.37,1248.94 315.00,1249.10 C317.63,1249.26 322.22,1250.33 325.80,1250.20 C329.38,1250.07 332.92,1248.40 336.50,1248.30 C340.08,1248.20 343.70,1250.05 347.30,1249.60 C350.90,1249.15 354.52,1245.95 358.10,1245.60 C361.68,1245.25 365.22,1246.73 368.80,1247.50 C372.38,1248.27 376.00,1250.52 379.60,1250.20 C383.20,1249.88 386.80,1246.05 390.40,1245.60 C394.00,1245.15 397.60,1247.37 401.20,1247.50 C404.80,1247.63 408.42,1246.48 412.00,1246.40 C415.58,1246.32 419.57,1247.37 422.70,1247.00 C425.83,1246.63 428.55,1243.85 430.80,1244.20 C433.05,1244.55 434.18,1248.87 436.20,1249.10 C438.22,1249.33 440.67,1246.63 442.90,1245.60 C445.13,1244.57 448.03,1243.13 449.60,1242.90 C451.17,1242.67 452.30,1244.20 452.30,1244.20" fill="none" stroke="#9a522a" stroke-width="1.6" stroke-linejoin="round" stroke-linecap="round" />
<rect x="61.0" y="42.2" width="387.00" height="352.80" fill="none" stroke="#000" stroke-width="1.9" stroke-linejoin="round"/>
<line x1="109.38" y1="395.00" x2="109.38" y2="392.40" stroke="#000" stroke-width="1.3"/>
<line x1="157.75" y1="395.00" x2="157.75" y2="390.40" stroke="#000" stroke-width="1.3"/>
<line x1="206.12" y1="395.00" x2="206.12" y2="392.40" stroke="#000" stroke-width="1.3"/>
<line x1="254.50" y1="395.00" x2="254.50" y2="390.40" stroke="#000" stroke-width="1.3"/>
<line x1="302.88" y1="395.00" x2="302.88" y2="392.40" stroke="#000" stroke-width="1.3"/>
<line x1="351.25" y1="395.00" x2="351.25" y2="390.40" stroke="#000" stroke-width="1.3"/>
<line x1="399.62" y1="395.00" x2="399.62" y2="392.40" stroke="#000" stroke-width="1.3"/>
<line x1="76.77" y1="42.20" x2="76.77" y2="44.80" stroke="#000" stroke-width="1.3"/>
<line x1="125.15" y1="42.20" x2="125.15" y2="46.80" stroke="#000" stroke-width="1.3"/>
<line x1="173.52" y1="42.20" x2="173.52" y2="44.80" stroke="#000" stroke-width="1.3"/>
<line x1="221.90" y1="42.20" x2="221.90" y2="46.80" stroke="#000" stroke-width="1.3"/>
<line x1="270.27" y1="42.20" x2="270.27" y2="44.80" stroke="#000" stroke-width="1.3"/>
<line x1="318.65" y1="42.20" x2="318.65" y2="46.80" stroke="#000" stroke-width="1.3"/>
<line x1="367.02" y1="42.20" x2="367.02" y2="44.80" stroke="#000" stroke-width="1.3"/>
<line x1="415.40" y1="42.20" x2="415.40" y2="46.80" stroke="#000" stroke-width="1.3"/>
<rect x="62.8" y="490.0" width="386.40" height="353.00" fill="none" stroke="#000" stroke-width="1.9" stroke-linejoin="round"/>
<line x1="111.10" y1="843.00" x2="111.10" y2="840.40" stroke="#000" stroke-width="1.3"/>
<line x1="159.40" y1="843.00" x2="159.40" y2="838.40" stroke="#000" stroke-width="1.3"/>
<line x1="207.70" y1="843.00" x2="207.70" y2="840.40" stroke="#000" stroke-width="1.3"/>
<line x1="256.00" y1="843.00" x2="256.00" y2="838.40" stroke="#000" stroke-width="1.3"/>
<line x1="304.30" y1="843.00" x2="304.30" y2="840.40" stroke="#000" stroke-width="1.3"/>
<line x1="352.60" y1="843.00" x2="352.60" y2="838.40" stroke="#000" stroke-width="1.3"/>
<line x1="400.90" y1="843.00" x2="400.90" y2="840.40" stroke="#000" stroke-width="1.3"/>
<line x1="78.55" y1="490.00" x2="78.55" y2="492.60" stroke="#000" stroke-width="1.3"/>
<line x1="126.85" y1="490.00" x2="126.85" y2="494.60" stroke="#000" stroke-width="1.3"/>
<line x1="175.15" y1="490.00" x2="175.15" y2="492.60" stroke="#000" stroke-width="1.3"/>
<line x1="223.45" y1="490.00" x2="223.45" y2="494.60" stroke="#000" stroke-width="1.3"/>
<line x1="271.75" y1="490.00" x2="271.75" y2="492.60" stroke="#000" stroke-width="1.3"/>
<line x1="320.05" y1="490.00" x2="320.05" y2="494.60" stroke="#000" stroke-width="1.3"/>
<line x1="368.35" y1="490.00" x2="368.35" y2="492.60" stroke="#000" stroke-width="1.3"/>
<line x1="416.65" y1="490.00" x2="416.65" y2="494.60" stroke="#000" stroke-width="1.3"/>
<rect x="66.0" y="938.1" width="387.00" height="352.50" fill="none" stroke="#000" stroke-width="1.9" stroke-linejoin="round"/>
<line x1="114.38" y1="1290.60" x2="114.38" y2="1288.00" stroke="#000" stroke-width="1.3"/>
<line x1="162.75" y1="1290.60" x2="162.75" y2="1286.00" stroke="#000" stroke-width="1.3"/>
<line x1="211.12" y1="1290.60" x2="211.12" y2="1288.00" stroke="#000" stroke-width="1.3"/>
<line x1="259.50" y1="1290.60" x2="259.50" y2="1286.00" stroke="#000" stroke-width="1.3"/>
<line x1="307.88" y1="1290.60" x2="307.88" y2="1288.00" stroke="#000" stroke-width="1.3"/>
<line x1="356.25" y1="1290.60" x2="356.25" y2="1286.00" stroke="#000" stroke-width="1.3"/>
<line x1="404.62" y1="1290.60" x2="404.62" y2="1288.00" stroke="#000" stroke-width="1.3"/>
<line x1="81.77" y1="938.10" x2="81.77" y2="940.70" stroke="#000" stroke-width="1.3"/>
<line x1="130.15" y1="938.10" x2="130.15" y2="942.70" stroke="#000" stroke-width="1.3"/>
<line x1="178.52" y1="938.10" x2="178.52" y2="940.70" stroke="#000" stroke-width="1.3"/>
<line x1="226.90" y1="938.10" x2="226.90" y2="942.70" stroke="#000" stroke-width="1.3"/>
<line x1="275.27" y1="938.10" x2="275.27" y2="940.70" stroke="#000" stroke-width="1.3"/>
<line x1="323.65" y1="938.10" x2="323.65" y2="942.70" stroke="#000" stroke-width="1.3"/>
<line x1="372.02" y1="938.10" x2="372.02" y2="940.70" stroke="#000" stroke-width="1.3"/>
<line x1="420.40" y1="938.10" x2="420.40" y2="942.70" stroke="#000" stroke-width="1.3"/>
<line x1="61.00" y1="355.80" x2="63.60" y2="355.80" stroke="#000" stroke-width="1.3"/>
<line x1="448.00" y1="355.80" x2="445.40" y2="355.80" stroke="#000" stroke-width="1.3"/>
<line x1="61.00" y1="316.60" x2="63.60" y2="316.60" stroke="#000" stroke-width="1.3"/>
<line x1="448.00" y1="316.60" x2="445.40" y2="316.60" stroke="#000" stroke-width="1.3"/>
<line x1="61.00" y1="277.40" x2="65.60" y2="277.40" stroke="#000" stroke-width="1.3"/>
<line x1="448.00" y1="277.40" x2="443.40" y2="277.40" stroke="#000" stroke-width="1.3"/>
<line x1="61.00" y1="238.20" x2="63.60" y2="238.20" stroke="#000" stroke-width="1.3"/>
<line x1="448.00" y1="238.20" x2="445.40" y2="238.20" stroke="#000" stroke-width="1.3"/>
<line x1="61.00" y1="199.00" x2="63.60" y2="199.00" stroke="#000" stroke-width="1.3"/>
<line x1="448.00" y1="199.00" x2="445.40" y2="199.00" stroke="#000" stroke-width="1.3"/>
<line x1="61.00" y1="159.80" x2="65.60" y2="159.80" stroke="#000" stroke-width="1.3"/>
<line x1="448.00" y1="159.80" x2="443.40" y2="159.80" stroke="#000" stroke-width="1.3"/>
<line x1="61.00" y1="120.60" x2="63.60" y2="120.60" stroke="#000" stroke-width="1.3"/>
<line x1="448.00" y1="120.60" x2="445.40" y2="120.60" stroke="#000" stroke-width="1.3"/>
<line x1="61.00" y1="81.40" x2="63.60" y2="81.40" stroke="#000" stroke-width="1.3"/>
<line x1="448.00" y1="81.40" x2="445.40" y2="81.40" stroke="#000" stroke-width="1.3"/>
<line x1="62.80" y1="798.88" x2="65.40" y2="798.88" stroke="#000" stroke-width="1.3"/>
<line x1="62.80" y1="754.75" x2="67.40" y2="754.75" stroke="#000" stroke-width="1.3"/>
<line x1="62.80" y1="710.62" x2="65.40" y2="710.62" stroke="#000" stroke-width="1.3"/>
<line x1="62.80" y1="666.50" x2="67.40" y2="666.50" stroke="#000" stroke-width="1.3"/>
<line x1="62.80" y1="622.38" x2="65.40" y2="622.38" stroke="#000" stroke-width="1.3"/>
<line x1="62.80" y1="578.25" x2="67.40" y2="578.25" stroke="#000" stroke-width="1.3"/>
<line x1="62.80" y1="534.12" x2="65.40" y2="534.12" stroke="#000" stroke-width="1.3"/>
<line x1="449.20" y1="798.88" x2="446.60" y2="798.88" stroke="#000" stroke-width="1.3"/>
<line x1="449.20" y1="754.75" x2="444.60" y2="754.75" stroke="#000" stroke-width="1.3"/>
<line x1="449.20" y1="710.62" x2="446.60" y2="710.62" stroke="#000" stroke-width="1.3"/>
<line x1="449.20" y1="666.50" x2="444.60" y2="666.50" stroke="#000" stroke-width="1.3"/>
<line x1="449.20" y1="622.38" x2="446.60" y2="622.38" stroke="#000" stroke-width="1.3"/>
<line x1="449.20" y1="578.25" x2="444.60" y2="578.25" stroke="#000" stroke-width="1.3"/>
<line x1="449.20" y1="534.12" x2="446.60" y2="534.12" stroke="#000" stroke-width="1.3"/>
<line x1="66.00" y1="1255.35" x2="68.60" y2="1255.35" stroke="#000" stroke-width="1.3"/>
<line x1="66.00" y1="1220.10" x2="70.60" y2="1220.10" stroke="#000" stroke-width="1.3"/>
<line x1="66.00" y1="1184.85" x2="68.60" y2="1184.85" stroke="#000" stroke-width="1.3"/>
<line x1="66.00" y1="1149.60" x2="70.60" y2="1149.60" stroke="#000" stroke-width="1.3"/>
<line x1="66.00" y1="1114.35" x2="68.60" y2="1114.35" stroke="#000" stroke-width="1.3"/>
<line x1="66.00" y1="1079.10" x2="70.60" y2="1079.10" stroke="#000" stroke-width="1.3"/>
<line x1="66.00" y1="1043.85" x2="68.60" y2="1043.85" stroke="#000" stroke-width="1.3"/>
<line x1="66.00" y1="1008.60" x2="70.60" y2="1008.60" stroke="#000" stroke-width="1.3"/>
<line x1="66.00" y1="973.35" x2="68.60" y2="973.35" stroke="#000" stroke-width="1.3"/>
<line x1="453.00" y1="1255.35" x2="450.40" y2="1255.35" stroke="#000" stroke-width="1.3"/>
<line x1="453.00" y1="1220.10" x2="448.40" y2="1220.10" stroke="#000" stroke-width="1.3"/>
<line x1="453.00" y1="1184.85" x2="450.40" y2="1184.85" stroke="#000" stroke-width="1.3"/>
<line x1="453.00" y1="1149.60" x2="448.40" y2="1149.60" stroke="#000" stroke-width="1.3"/>
<line x1="453.00" y1="1114.35" x2="450.40" y2="1114.35" stroke="#000" stroke-width="1.3"/>
<line x1="453.00" y1="1079.10" x2="448.40" y2="1079.10" stroke="#000" stroke-width="1.3"/>
<line x1="453.00" y1="1043.85" x2="450.40" y2="1043.85" stroke="#000" stroke-width="1.3"/>
<line x1="453.00" y1="1008.60" x2="448.40" y2="1008.60" stroke="#000" stroke-width="1.3"/>
<line x1="453.00" y1="973.35" x2="450.40" y2="973.35" stroke="#000" stroke-width="1.3"/>
<text x="61.00" y="412.50" font-size="19.8" text-anchor="middle" >0</text>
<text x="157.75" y="412.50" font-size="19.8" text-anchor="middle" >10</text>
<text x="254.50" y="412.50" font-size="19.8" text-anchor="middle" >20</text>
<text x="351.25" y="412.50" font-size="19.8" text-anchor="middle" >30</text>
<text x="448.00" y="412.50" font-size="19.8" text-anchor="middle" >40</text>
<text x="125.15" y="37.75" font-size="19.8" text-anchor="middle" >20</text>
<text x="221.90" y="37.75" font-size="19.8" text-anchor="middle" >30</text>
<text x="318.65" y="37.75" font-size="19.8" text-anchor="middle" >40</text>
<text x="415.40" y="37.75" font-size="19.8" text-anchor="middle" >50</text>
<text x="62.80" y="863.75" font-size="19.8" text-anchor="middle" >0</text>
<text x="159.40" y="863.75" font-size="19.8" text-anchor="middle" >10</text>
<text x="256.00" y="863.75" font-size="19.8" text-anchor="middle" >20</text>
<text x="352.60" y="863.75" font-size="19.8" text-anchor="middle" >30</text>
<text x="449.20" y="863.75" font-size="19.8" text-anchor="middle" >40</text>
<text x="126.85" y="484.75" font-size="19.8" text-anchor="middle" >20</text>
<text x="223.45" y="484.75" font-size="19.8" text-anchor="middle" >30</text>
<text x="320.05" y="484.75" font-size="19.8" text-anchor="middle" >40</text>
<text x="416.65" y="484.75" font-size="19.8" text-anchor="middle" >50</text>
<text x="66.00" y="1313.00" font-size="19.8" text-anchor="middle" >0</text>
<text x="162.75" y="1313.00" font-size="19.8" text-anchor="middle" >10</text>
<text x="259.50" y="1313.00" font-size="19.8" text-anchor="middle" >20</text>
<text x="356.25" y="1313.00" font-size="19.8" text-anchor="middle" >30</text>
<text x="453.00" y="1313.00" font-size="19.8" text-anchor="middle" >40</text>
<text x="130.15" y="932.85" font-size="19.8" text-anchor="middle" >20</text>
<text x="226.90" y="932.85" font-size="19.8" text-anchor="middle" >30</text>
<text x="323.65" y="932.85" font-size="19.8" text-anchor="middle" >40</text>
<text x="420.40" y="932.85" font-size="19.8" text-anchor="middle" >50</text>
<text x="56.20" y="401.90" font-size="19.8" text-anchor="end" >0</text>
<text x="56.20" y="284.30" font-size="19.8" text-anchor="end" >3</text>
<text x="56.20" y="166.70" font-size="19.8" text-anchor="end" >6</text>
<text x="56.20" y="49.10" font-size="19.8" text-anchor="end" >9</text>
<text x="58.00" y="849.90" font-size="19.8" text-anchor="end" >0</text>
<text x="58.00" y="761.65" font-size="19.8" text-anchor="end" >0.2</text>
<text x="58.00" y="673.40" font-size="19.8" text-anchor="end" >0.4</text>
<text x="58.00" y="585.15" font-size="19.8" text-anchor="end" >0.6</text>
<text x="58.00" y="496.90" font-size="19.8" text-anchor="end" >0.8</text>
<text x="451.90" y="849.90" font-size="19.8" text-anchor="start" >0</text>
<text x="451.90" y="761.65" font-size="19.8" text-anchor="start" >600</text>
<text x="451.90" y="673.40" font-size="19.8" text-anchor="start" >1200</text>
<text x="451.90" y="585.15" font-size="19.8" text-anchor="start" >1800</text>
<text x="451.90" y="496.90" font-size="19.8" text-anchor="start" >2400</text>
<text x="61.20" y="1297.50" font-size="19.8" text-anchor="end" >0</text>
<text x="61.20" y="1227.00" font-size="19.8" text-anchor="end" >1</text>
<text x="61.20" y="1156.50" font-size="19.8" text-anchor="end" >2</text>
<text x="61.20" y="1086.00" font-size="19.8" text-anchor="end" >3</text>
<text x="61.20" y="1015.50" font-size="19.8" text-anchor="end" >4</text>
<text x="61.20" y="945.00" font-size="19.8" text-anchor="end" >5</text>
<text x="458.00" y="1297.50" font-size="19.8" text-anchor="start" >0</text>
<text x="458.00" y="1227.00" font-size="19.8" text-anchor="start" >3</text>
<text x="458.00" y="1156.50" font-size="19.8" text-anchor="start" >6</text>
<text x="458.00" y="1086.00" font-size="19.8" text-anchor="start" >9</text>
<text x="458.00" y="1015.50" font-size="19.8" text-anchor="start" >12</text>
<text x="458.00" y="945.00" font-size="19.8" text-anchor="start" >15</text>
<text x="254.20" y="16.30" font-size="21.0" text-anchor="middle" letter-spacing="0.15">Total Aspect Ratio</text>
<text x="254.20" y="431.50" font-size="21.0" text-anchor="middle" >SiO<tspan font-size="13.5" dy="5">2</tspan><tspan dy="-5"> Aspect Ratio</tspan></text>
<text x="14.00" y="429.00" font-size="21.6" text-anchor="start" >(a)</text>
<text x="29.80" y="219.00" font-size="20.7" text-anchor="middle" transform="rotate(-90 29.80 219.00)" >Fluxes to Etch Front (× 10<tspan font-size="12.0" dy="-11.0">15</tspan><tspan dy="11.0"> cm</tspan><tspan font-size="12.0" dy="-11.0">-2</tspan><tspan dy="11.0">s</tspan><tspan font-size="12.0" dy="-11.0">-1</tspan><tspan dy="11.0">)</tspan></text>
<text x="175.00" y="98.50" font-size="21.0" text-anchor="start" >CF<tspan font-size="12.9" dy="6.2">x</tspan><tspan dy="-6.2"> + C</tspan><tspan font-size="12.9" dy="6.2">x</tspan><tspan dy="-6.2">F</tspan><tspan font-size="12.9" dy="6.2">y</tspan></text>
<text x="172.60" y="154.50" font-size="21.0" text-anchor="start" >(CF<tspan font-size="12.9" dy="6.2">x</tspan><tspan dy="-6.2"> + C</tspan><tspan font-size="12.9" dy="6.2">x</tspan><tspan dy="-6.2">F</tspan><tspan font-size="12.9" dy="6.2">y</tspan><tspan dy="-6.2">)/4</tspan></text>
<text x="404.20" y="239.20" font-size="21.0" text-anchor="end" >Hot Neutrals</text>
<text x="167.70" y="335.20" font-size="21.0" text-anchor="start" >Ions</text>
<text x="256.10" y="464.20" font-size="21.0" text-anchor="middle" letter-spacing="0.15">Total Aspect Ratio</text>
<text x="256.10" y="881.20" font-size="21.0" text-anchor="middle" >SiO<tspan font-size="13.5" dy="5">2</tspan><tspan dy="-5"> Aspect Ratio</tspan></text>
<text x="15.00" y="878.40" font-size="21.6" text-anchor="start" >(b)</text>
<text x="20.70" y="667.00" font-size="20.7" text-anchor="middle" transform="rotate(-90 20.70 667.00)" >Power Density to Etch Front (W/cm<tspan font-size="12.0" dy="-11.0">2</tspan><tspan dy="11.0">)</tspan></text>
<text x="513.50" y="667.30" font-size="20.7" text-anchor="middle" transform="rotate(-90 513.50 667.30)" >Average Energy (eV)</text>
<text transform="translate(96.10 546.90) scale(0.95 1)" font-size="26.3" style="font-family:'Liberation Serif',serif">ε</text><text x="107.80" y="554.60" font-size="15.5" text-anchor="start" >ion</text>
<text transform="translate(99.50 767.20) scale(0.95 1)" font-size="26.3" style="font-family:'Liberation Serif',serif">ε</text><text x="111.40" y="774.40" font-size="15.5" text-anchor="start" >hot</text>
<text x="235.30" y="673.50" font-size="21.0" text-anchor="start" >Power (hot neutrals)</text>
<text x="268.40" y="725.00" font-size="21.0" text-anchor="start" >Power (ions)</text>
<text x="259.50" y="912.30" font-size="21.0" text-anchor="middle" letter-spacing="0.15">Total Aspect Ratio</text>
<text x="259.60" y="1331.50" font-size="21.0" text-anchor="middle" >SiO<tspan font-size="13.5" dy="5">2</tspan><tspan dy="-5"> Aspect Ratio</tspan></text>
<text x="18.00" y="1330.20" font-size="21.6" text-anchor="start" >(c)</text>
<text x="35.30" y="1114.00" font-size="20.7" text-anchor="middle" transform="rotate(-90 35.30 1114.00)" >Fluxes out of Feature (× 10<tspan font-size="12.0" dy="-11.0">14</tspan><tspan dy="11.0">cm</tspan><tspan font-size="12.0" dy="-11.0">-2</tspan><tspan dy="11.0">s</tspan><tspan font-size="12.0" dy="-11.0">-1</tspan><tspan dy="11.0">)</tspan></text>
<text x="503.00" y="1113.90" font-size="20.7" text-anchor="middle" transform="rotate(-90 503.00 1113.90)" >COF Flux out of Feature (× 10<tspan font-size="12.0" dy="-11.0">15</tspan><tspan dy="11.0">cm</tspan><tspan font-size="12.0" dy="-11.0">-2</tspan><tspan dy="11.0">s</tspan><tspan font-size="12.0" dy="-11.0">-1</tspan><tspan dy="11.0">)</tspan></text>
<text x="200.50" y="1009.80" font-size="21.0" text-anchor="start" >CO<tspan font-size="12.9" dy="6.2">x</tspan></text>
<text x="398.20" y="1025.00" font-size="21.0" text-anchor="start" >COF</text>
<text x="297.80" y="1115.10" font-size="21.0" text-anchor="start" >SiF<tspan font-size="12.9" dy="6.2">x</tspan></text>
<text x="149.20" y="1165.50" font-size="21.0" text-anchor="start" >SiO<tspan font-size="12.9" dy="6.2">2</tspan></text>
<text x="257.40" y="1229.50" font-size="21.0" text-anchor="start" >SiF<tspan font-size="12.9" dy="6.2">4</tspan></text>
<line x1="171.90" y1="92.90" x2="140.38" y2="98.95" stroke="#000" stroke-width="1.5"/>
<polygon points="128.10,101.30 141.68,95.13 141.55,98.72 143.00,102.01" fill="#000" stroke="#000" stroke-width="0.4" stroke-linejoin="round"/>
<line x1="171.30" y1="149.50" x2="108.34" y2="161.13" stroke="#000" stroke-width="1.5"/>
<polygon points="96.05,163.40 109.67,157.32 109.52,160.91 110.94,164.21" fill="#000" stroke="#000" stroke-width="0.4" stroke-linejoin="round"/>
<line x1="286.50" y1="233.50" x2="255.75" y2="239.72" stroke="#000" stroke-width="1.5"/>
<polygon points="243.50,242.20 257.02,235.89 256.93,239.48 258.41,242.76" fill="#000" stroke="#000" stroke-width="0.4" stroke-linejoin="round"/>
<line x1="166.70" y1="328.80" x2="126.44" y2="337.08" stroke="#000" stroke-width="1.5"/>
<polygon points="114.20,339.60 127.70,333.25 127.62,336.84 129.11,340.11" fill="#000" stroke="#000" stroke-width="0.4" stroke-linejoin="round"/>
<line x1="231.50" y1="666.20" x2="209.54" y2="692.33" stroke="#000" stroke-width="1.5"/>
<polygon points="201.50,701.90 208.15,688.55 210.31,691.41 213.51,693.05" fill="#000" stroke="#000" stroke-width="0.4" stroke-linejoin="round"/>
<line x1="267.70" y1="718.50" x2="245.66" y2="745.16" stroke="#000" stroke-width="1.5"/>
<polygon points="237.70,754.80 244.24,741.39 246.43,744.24 249.64,745.85" fill="#000" stroke="#000" stroke-width="0.4" stroke-linejoin="round"/>
<line x1="197.70" y1="1002.80" x2="183.77" y2="1016.30" stroke="#000" stroke-width="1.5"/>
<polygon points="174.80,1025.00 182.77,1012.39 184.64,1015.46 187.65,1017.42" fill="#000" stroke="#000" stroke-width="0.4" stroke-linejoin="round"/>
<line x1="398.10" y1="1017.50" x2="380.91" y2="1008.63" stroke="#000" stroke-width="1.5"/>
<polygon points="369.80,1002.90 384.29,1006.44 381.98,1009.18 381.08,1012.66" fill="#000" stroke="#000" stroke-width="0.4" stroke-linejoin="round"/>
<line x1="293.70" y1="1109.90" x2="279.79" y2="1122.73" stroke="#000" stroke-width="1.5"/>
<polygon points="270.60,1131.20 278.89,1118.80 280.67,1121.91 283.63,1123.94" fill="#000" stroke="#000" stroke-width="0.4" stroke-linejoin="round"/>
<line x1="190.00" y1="1156.00" x2="202.84" y2="1145.44" stroke="#000" stroke-width="1.5"/>
<polygon points="212.50,1137.50 203.52,1149.41 201.92,1146.20 199.08,1144.01" fill="#000" stroke="#000" stroke-width="0.4" stroke-linejoin="round"/>
<line x1="253.75" y1="1223.75" x2="239.69" y2="1236.72" stroke="#000" stroke-width="1.5"/>
<polygon points="230.50,1245.20 238.78,1232.80 240.57,1235.91 243.53,1237.94" fill="#000" stroke="#000" stroke-width="0.4" stroke-linejoin="round"/>
</svg>
</body></html>
